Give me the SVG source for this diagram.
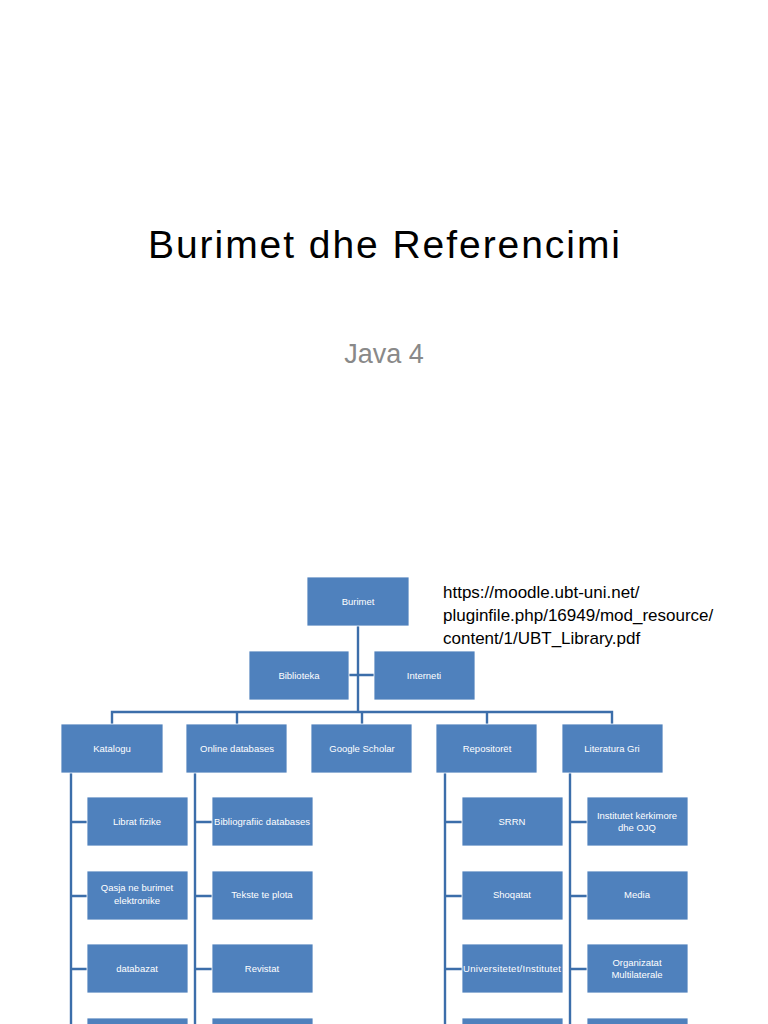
<svg xmlns="http://www.w3.org/2000/svg" width="768" height="1024" viewBox="0 0 768 1024">
<style>
.b{fill:#4f81bd;stroke:#fff;stroke-width:0.8}
.t{fill:#fff;font-family:"Liberation Sans",Arial,sans-serif;font-size:9.5px;text-anchor:middle}
.c{stroke:#3c6eaa;stroke-width:2.4;fill:none}
</style>
<rect width="768" height="1024" fill="#fff"/>
<text x="384" y="258" font-family="Liberation Sans,Arial,sans-serif" font-size="39" text-anchor="middle" textLength="472" fill="#000">Burimet dhe Referencimi</text>
<text x="384" y="363" font-family="Liberation Sans,Arial,sans-serif" font-size="27" text-anchor="middle" fill="#898989">Java 4</text>
<g font-family="Liberation Sans,Arial,sans-serif" font-size="17" fill="#000">
<text x="443" y="598">https://moodle.ubt-uni.net/</text>
<text x="443" y="621">pluginfile.php/16949/mod_resource/</text>
<text x="443" y="644">content/1/UBT_Library.pdf</text>
</g>
<g id="connectors" class="c">
<path d="M358 626V712M349 675H374M112 724V712H612V724M237 712V724M362 712V724M487 712V724"/>
<path d="M71 773V1024M71 822H87M71 896H87M71 969H87"/>
<path d="M195 773V1024M195 822H212M195 896H212M195 969H212"/>
<path d="M445 773V1024M445 822H462M445 896H462M445 969H462"/>
<path d="M570 773V1024M570 822H587M570 896H587M570 969H587"/>
</g>
<g id="burimet"><rect class="b" x="307" y="577" width="102" height="49"/><text class="t" x="358" y="605">Burimet</text></g>
<g id="biblioteka"><rect class="b" x="249" y="651" width="100" height="49"/><text class="t" x="299" y="679">Biblioteka</text></g>
<g id="interneti"><rect class="b" x="374" y="651" width="101" height="49"/><text class="t" x="424" y="679">Interneti</text></g>
<g id="katalogu"><rect class="b" x="61" y="724" width="102" height="49"/><text class="t" x="112" y="752">Katalogu</text></g>
<g id="online"><rect class="b" x="186" y="724" width="101" height="49"/><text class="t" x="237" y="752">Online databases</text></g>
<g id="google"><rect class="b" x="311" y="724" width="101" height="49"/><text class="t" x="362" y="752">Google Scholar</text></g>
<g id="repo"><rect class="b" x="436" y="724" width="101" height="49"/><text class="t" x="487" y="752">Repositorët</text></g>
<g id="literatura"><rect class="b" x="562" y="724" width="101" height="49"/><text class="t" x="612" y="752">Literatura Gri</text></g>
<g id="librat"><rect class="b" x="87" y="797" width="101" height="49"/><text class="t" x="137" y="825">Librat fizike</text></g>
<g id="qasja"><rect class="b" x="87" y="871" width="101" height="49"/><text class="t" x="137" y="891">Qasja ne burimet</text><text class="t" x="137" y="904">elektronike</text></g>
<g id="databazat"><rect class="b" x="87" y="944" width="101" height="49"/><text class="t" x="137" y="972">databazat</text></g>
<g id="k4"><rect class="b" x="87" y="1018" width="101" height="49"/></g>
<g id="biblio"><rect class="b" x="212" y="797" width="101" height="49"/><text class="t" x="262" y="825" textLength="96">Bibliografiic databases</text></g>
<g id="tekste"><rect class="b" x="212" y="871" width="101" height="49"/><text class="t" x="262" y="898">Tekste te plota</text></g>
<g id="revistat"><rect class="b" x="212" y="944" width="101" height="49"/><text class="t" x="262" y="972">Revistat</text></g>
<g id="o4"><rect class="b" x="212" y="1018" width="101" height="49"/></g>
<g id="srrn"><rect class="b" x="462" y="797" width="101" height="49"/><text class="t" x="512" y="825">SRRN</text></g>
<g id="shoqatat"><rect class="b" x="462" y="871" width="101" height="49"/><text class="t" x="512" y="898">Shoqatat</text></g>
<g id="univ"><rect class="b" x="462" y="944" width="101" height="49"/><text class="t" x="512" y="972" textLength="98">Universitetet/Institutet</text></g>
<g id="r4"><rect class="b" x="462" y="1018" width="101" height="49"/></g>
<g id="institutet"><rect class="b" x="587" y="797" width="101" height="49"/><text class="t" x="637" y="819">Institutet kërkimore</text><text class="t" x="637" y="831">dhe OJQ</text></g>
<g id="media"><rect class="b" x="587" y="871" width="101" height="49"/><text class="t" x="637" y="898">Media</text></g>
<g id="org"><rect class="b" x="587" y="944" width="101" height="49"/><text class="t" x="637" y="966">Organizatat</text><text class="t" x="637" y="978">Multilaterale</text></g>
<g id="l4"><rect class="b" x="587" y="1018" width="101" height="49"/></g>
</svg>
